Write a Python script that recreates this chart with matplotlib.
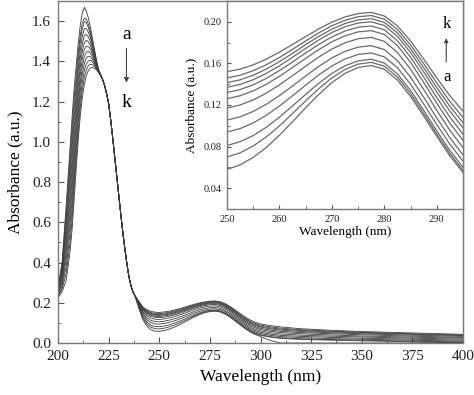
import matplotlib
matplotlib.use("Agg")
import matplotlib.pyplot as plt
from matplotlib.ticker import MultipleLocator, FormatStrFormatter

plt.rcParams["font.family"] = ["Liberation Serif", "DejaVu Serif"]

# Spectres a -> l (12 courbes)
wl_peak = [200, 202, 204, 205, 206, 207, 208, 209, 210, 211, 212, 213, 214, 215, 216, 217, 218, 219, 220, 221]
abs_peak = [
    [0.280, 0.400, 0.680, 0.830, 0.980, 1.130, 1.270, 1.380, 1.490, 1.580, 1.640, 1.668, 1.650, 1.615, 1.570, 1.515, 1.460, 1.405, 1.360, 1.335],
    [0.275, 0.387, 0.646, 0.789, 0.933, 1.079, 1.220, 1.334, 1.446, 1.530, 1.590, 1.615, 1.610, 1.585, 1.548, 1.502, 1.451, 1.401, 1.359, 1.335],
    [0.270, 0.374, 0.613, 0.748, 0.885, 1.028, 1.170, 1.287, 1.403, 1.498, 1.564, 1.598, 1.592, 1.568, 1.533, 1.489, 1.443, 1.396, 1.357, 1.334],
    [0.265, 0.360, 0.579, 0.707, 0.838, 0.977, 1.120, 1.241, 1.359, 1.457, 1.525, 1.563, 1.563, 1.544, 1.515, 1.475, 1.434, 1.392, 1.356, 1.334],
    [0.260, 0.347, 0.545, 0.666, 0.791, 0.926, 1.070, 1.195, 1.315, 1.416, 1.487, 1.529, 1.534, 1.520, 1.497, 1.462, 1.426, 1.388, 1.355, 1.333],
    [0.255, 0.334, 0.512, 0.625, 0.744, 0.875, 1.020, 1.148, 1.272, 1.375, 1.449, 1.494, 1.505, 1.497, 1.478, 1.449, 1.417, 1.383, 1.353, 1.333],
    [0.250, 0.321, 0.478, 0.585, 0.696, 0.825, 0.970, 1.102, 1.228, 1.334, 1.411, 1.459, 1.475, 1.473, 1.460, 1.436, 1.409, 1.379, 1.352, 1.332],
    [0.245, 0.308, 0.445, 0.544, 0.649, 0.774, 0.920, 1.055, 1.184, 1.294, 1.373, 1.424, 1.446, 1.450, 1.441, 1.423, 1.400, 1.374, 1.350, 1.332],
    [0.240, 0.295, 0.411, 0.503, 0.602, 0.723, 0.870, 1.009, 1.141, 1.253, 1.335, 1.389, 1.417, 1.426, 1.423, 1.410, 1.392, 1.370, 1.349, 1.331],
    [0.235, 0.281, 0.377, 0.462, 0.555, 0.672, 0.820, 0.963, 1.097, 1.212, 1.296, 1.355, 1.388, 1.402, 1.405, 1.396, 1.383, 1.366, 1.348, 1.331],
    [0.230, 0.268, 0.344, 0.421, 0.507, 0.621, 0.770, 0.916, 1.054, 1.171, 1.258, 1.320, 1.359, 1.379, 1.386, 1.383, 1.375, 1.361, 1.346, 1.330],
    [0.225, 0.255, 0.310, 0.380, 0.460, 0.570, 0.720, 0.870, 1.010, 1.130, 1.220, 1.285, 1.330, 1.355, 1.368, 1.370, 1.366, 1.357, 1.345, 1.330],
]

# Descente commune (toutes les courbes confondues)
wl_drop = [222, 223, 224, 225, 226, 227, 228, 229, 230, 231, 232, 233, 234, 235, 236, 237, 238]
abs_drop = [1.310, 1.280, 1.240, 1.190, 1.110, 1.020, 0.925, 0.830, 0.735, 0.640, 0.550, 0.470, 0.395, 0.330, 0.285, 0.255, 0.235]

wl_band = [240, 242, 244, 246, 248, 250, 252.5, 255, 257.5, 260, 262.5, 265, 267.5, 270, 272.5,
           275, 277.5, 280, 282.5, 285, 287.5, 290, 292.5, 295, 297.5, 300]
abs_band = [
    [0.170, 0.115, 0.083, 0.066, 0.059, 0.058, 0.0624, 0.0696, 0.0792, 0.0909, 0.1039, 0.1173, 0.1302, 0.1416, 0.1504, 0.1561, 0.158, 0.1543, 0.1439, 0.1282, 0.1094, 0.0898, 0.0711, 0.055, 0.042, 0.032],
    [0.175, 0.123, 0.093, 0.078, 0.071, 0.070, 0.0740, 0.0806, 0.0893, 0.0999, 0.1118, 0.1240, 0.1357, 0.1461, 0.1541, 0.1593, 0.161, 0.1573, 0.1468, 0.1310, 0.1120, 0.0921, 0.0733, 0.057, 0.046, 0.038],
    [0.179, 0.130, 0.103, 0.088, 0.082, 0.081, 0.0847, 0.0906, 0.0986, 0.1083, 0.1191, 0.1302, 0.1409, 0.1504, 0.1577, 0.1624, 0.164, 0.1603, 0.1498, 0.1340, 0.1150, 0.0951, 0.0763, 0.060, 0.049, 0.041],
    [0.184, 0.139, 0.114, 0.101, 0.095, 0.094, 0.0973, 0.1028, 0.1101, 0.1190, 0.1289, 0.1391, 0.1489, 0.1575, 0.1642, 0.1686, 0.170, 0.1663, 0.1558, 0.1400, 0.1210, 0.1011, 0.0823, 0.066, 0.055, 0.047],
    [0.188, 0.147, 0.124, 0.112, 0.1065, 0.1055, 0.1086, 0.1138, 0.1207, 0.1290, 0.1383, 0.1479, 0.1571, 0.1653, 0.1716, 0.1756, 0.177, 0.1733, 0.1626, 0.1467, 0.1275, 0.1074, 0.0885, 0.072, 0.061, 0.053],
    [0.193, 0.155, 0.134, 0.123, 0.118, 0.117, 0.1200, 0.1249, 0.1314, 0.1394, 0.1482, 0.1573, 0.1661, 0.1738, 0.1798, 0.1837, 0.185, 0.1812, 0.1705, 0.1544, 0.1350, 0.1148, 0.0956, 0.079, 0.068, 0.060],
    [0.196, 0.161, 0.142, 0.132, 0.127, 0.126, 0.1289, 0.1336, 0.1399, 0.1475, 0.1561, 0.1648, 0.1733, 0.1808, 0.1865, 0.1903, 0.1915, 0.1878, 0.1771, 0.1610, 0.1418, 0.1216, 0.1025, 0.086, 0.075, 0.067],
    [0.198, 0.165, 0.148, 0.138, 0.133, 0.132, 0.1348, 0.1394, 0.1456, 0.1531, 0.1614, 0.1700, 0.1782, 0.1855, 0.1911, 0.1948, 0.196, 0.1923, 0.1818, 0.1660, 0.1470, 0.1271, 0.1083, 0.092, 0.081, 0.073],
    [0.200, 0.168, 0.152, 0.142, 0.138, 0.137, 0.1398, 0.1443, 0.1504, 0.1577, 0.1659, 0.1744, 0.1825, 0.1897, 0.1952, 0.1988, 0.200, 0.1964, 0.1860, 0.1705, 0.1519, 0.1324, 0.1140, 0.098, 0.087, 0.079],
    [0.202, 0.171, 0.156, 0.147, 0.1425, 0.1415, 0.1442, 0.1486, 0.1545, 0.1617, 0.1697, 0.1780, 0.1859, 0.1929, 0.1983, 0.2018, 0.203, 0.1994, 0.1893, 0.1741, 0.1559, 0.1367, 0.1187, 0.103, 0.092, 0.084],
    [0.204, 0.174, 0.160, 0.151, 0.147, 0.146, 0.1486, 0.1530, 0.1587, 0.1657, 0.1735, 0.1816, 0.1893, 0.1962, 0.2014, 0.2049, 0.206, 0.2025, 0.1926, 0.1777, 0.1598, 0.1411, 0.1234, 0.108, 0.097, 0.089],
    [0.206, 0.178, 0.165, 0.157, 0.153, 0.152, 0.1545, 0.1586, 0.1641, 0.1708, 0.1782, 0.1858, 0.1932, 0.1997, 0.2047, 0.2079, 0.209, 0.2056, 0.1960, 0.1816, 0.1642, 0.1461, 0.1289, 0.114, 0.103, 0.095],
]

wl_tail = [305, 310, 320, 335, 350, 375, 400]
abs_tail = [
    [0.012, 0.000, 0.000, 0.000, 0.000, 0.000, 0.003],
    [0.029, 0.023, 0.018, 0.014, 0.011, 0.006, 0.002],
    [0.032, 0.026, 0.021, 0.017, 0.014, 0.009, 0.005],
    [0.038, 0.032, 0.027, 0.022, 0.019, 0.014, 0.009],
    [0.044, 0.038, 0.033, 0.028, 0.024, 0.019, 0.014],
    [0.051, 0.045, 0.039, 0.034, 0.030, 0.024, 0.019],
    [0.058, 0.052, 0.046, 0.040, 0.035, 0.029, 0.024],
    [0.064, 0.058, 0.052, 0.046, 0.041, 0.034, 0.028],
    [0.070, 0.064, 0.057, 0.051, 0.046, 0.039, 0.033],
    [0.075, 0.069, 0.062, 0.055, 0.050, 0.043, 0.037],
    [0.080, 0.074, 0.066, 0.059, 0.053, 0.046, 0.040],
    [0.086, 0.080, 0.071, 0.063, 0.057, 0.050, 0.043],
]

wl_all = wl_peak + wl_drop + wl_band + wl_tail
spectra = [abs_peak[i] + abs_drop + abs_band[i] + abs_tail[i] for i in range(len(abs_peak))]


def style_axes(ax, label_size, tick_size, major_len, minor_len, pad):
    for sp in ax.spines.values():
        sp.set_color("#7a7a7a")
        sp.set_linewidth(1.0)
    ax.tick_params(which="both", direction="in", colors="#555555", labelcolor="#222222",
                   labelsize=tick_size, pad=pad)
    ax.tick_params(which="major", length=major_len)
    ax.tick_params(which="minor", length=minor_len)


fig = plt.figure(figsize=(4.74, 3.95), dpi=100)

# Graphique principal
ax = fig.add_axes([0.1224, 0.1316, 0.8544, 0.8659])
for spec in spectra:
    ax.plot(wl_all, spec, color="#3c3c3c", linewidth=0.6)
ax.set_xlim(200, 400)
ax.set_ylim(0, 1.7)
ax.xaxis.set_major_locator(MultipleLocator(25))
ax.xaxis.set_minor_locator(MultipleLocator(12.5))
ax.yaxis.set_major_locator(MultipleLocator(0.2))
ax.yaxis.set_minor_locator(MultipleLocator(0.1))
ax.yaxis.set_major_formatter(FormatStrFormatter("%.1f"))
style_axes(ax, 12, 11, 4, 2.5, 5)
ax.set_xlabel("Wavelength (nm)", fontsize=12.5, labelpad=4)
ax.set_ylabel("Absorbance (a.u.)", fontsize=12.5, labelpad=6)

ax.text(234, 1.535, "a", fontsize=14, ha="center", va="center")
ax.text(234, 1.196, "k", fontsize=14, ha="center", va="center")
ax.annotate("", xy=(233.8, 1.28), xytext=(233.8, 1.478),
            arrowprops=dict(arrowstyle="-|>", color="#444444", lw=0.8, mutation_scale=7))

# Encart : zoom sur la bande vers 277 nm
ins = fig.add_axes([0.4789, 0.4709, 0.4979, 0.5266])
for spec in spectra:
    ins.plot(wl_all, spec, color="#6a6a6a", linewidth=0.9)
ins.set_xlim(250, 295)
ins.set_ylim(0.02, 0.22)
ins.xaxis.set_major_locator(MultipleLocator(10))
ins.xaxis.set_minor_locator(MultipleLocator(5))
ins.yaxis.set_major_locator(MultipleLocator(0.04))
ins.yaxis.set_minor_locator(MultipleLocator(0.02))
ins.yaxis.set_major_formatter(FormatStrFormatter("%.2f"))
style_axes(ins, 9.5, 7.5, 3, 2, 4)
ins.set_xlabel("Wavelength (nm)", fontsize=9.5, labelpad=2)
ins.set_ylabel("Absorbance (a.u.)", fontsize=9.5, labelpad=4)

ins.text(291.9, 0.198, "k", fontsize=12, ha="center", va="center")
ins.text(291.9, 0.147, "a", fontsize=12, ha="center", va="center")
ins.annotate("", xy=(291.8, 0.187), xytext=(291.8, 0.1585),
             arrowprops=dict(arrowstyle="-|>", color="#444444", lw=0.8, mutation_scale=6))

fig.savefig("out.png", dpi=100)
